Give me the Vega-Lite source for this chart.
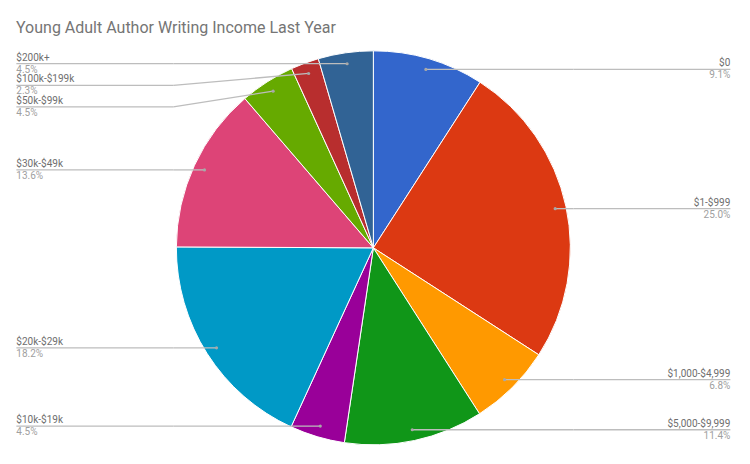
{
  "$schema": "https://vega.github.io/schema/vega-lite/v6.json",
  "width": 750,
  "height": 416,
  "padding": {"left": 0, "right": 0, "top": 20, "bottom": 0},
  "title": {
    "text": "Young Adult Author Writing Income Last Year",
    "anchor": "start",
    "dx": 16,
    "offset": 6,
    "font": "Roboto",
    "fontSize": 16,
    "fontWeight": "normal",
    "color": "#757575"
  },
  "config": {"view": {"stroke": null}},
  "data": {
    "values": [
      {"income": "$0", "share": 0.091},
      {"income": "$1-$999", "share": 0.25},
      {"income": "$1,000-$4,999", "share": 0.068},
      {"income": "$5,000-$9,999", "share": 0.114},
      {"income": "$10k-$19k", "share": 0.045},
      {"income": "$20k-$29k", "share": 0.182},
      {"income": "$30k-$49k", "share": 0.136},
      {"income": "$50k-$99k", "share": 0.045},
      {"income": "$100k-$199k", "share": 0.023},
      {"income": "$200k+", "share": 0.045}
    ]
  },
  "transform": [
    {"window": [{"op": "sum", "field": "share", "as": "cum"}]},
    {"joinaggregate": [{"op": "sum", "field": "share", "as": "total"}]},
    {"calculate": "2 * PI * (datum.cum - datum.share / 2) / datum.total", "as": "angle"},
    {"calculate": "186 * sin(datum.angle)", "as": "dotX"},
    {"calculate": "-186 * cos(datum.angle)", "as": "dotY"},
    {"calculate": "sin(datum.angle) > 0 ? 'right' : 'left'", "as": "side"},
    {"window": [{"op": "rank", "as": "slot"}], "groupby": ["side"], "sort": [{"field": "dotY"}]},
    {"joinaggregate": [{"op": "min", "field": "dotY", "as": "topY"}], "groupby": ["side"]},
    {"calculate": "max(datum.dotY, datum.topY + (datum.slot - 1) * 21.6)", "as": "labelY"},
    {"calculate": "datum.side == 'right' ? 357 : -357", "as": "labelX"},
    {"calculate": "datum.side == 'right' ? 200 : -200", "as": "elbowX"}
  ],
  "layer": [
    {
      "mark": {"type": "arc", "outerRadius": 197, "stroke": "white", "strokeWidth": 1},
      "encoding": {
        "theta": {"field": "share", "type": "quantitative", "stack": true},
        "order": {"field": "cum", "type": "quantitative"},
        "color": {
          "field": "income",
          "type": "nominal",
          "legend": null,
          "scale": {
            "domain": ["$0", "$1-$999", "$1,000-$4,999", "$5,000-$9,999", "$10k-$19k", "$20k-$29k", "$30k-$49k", "$50k-$99k", "$100k-$199k", "$200k+"],
            "range": ["#3366cc", "#dc3912", "#ff9900", "#109618", "#990099", "#0099c6", "#dd4477", "#66aa00", "#b82e2e", "#316395"]
          }
        },
        "x": {"datum": 0, "type": "quantitative", "axis": null, "scale": {"domain": [-373.35, 376.65], "nice": false, "zero": false}},
        "y": {"datum": 0, "type": "quantitative", "axis": null, "scale": {"domain": [-205.85, 210.15], "nice": false, "zero": false, "reverse": true}}
      }
    },
    {
      "mark": {"type": "rule", "color": "#bdbdbd", "strokeWidth": 1.3},
      "encoding": {
        "x": {"field": "labelX", "type": "quantitative", "axis": null, "scale": {"domain": [-373.35, 376.65], "nice": false, "zero": false}},
        "x2": {"field": "elbowX"},
        "y": {"field": "labelY", "type": "quantitative", "axis": null, "scale": {"domain": [-205.85, 210.15], "nice": false, "zero": false, "reverse": true}}
      }
    },
    {
      "mark": {"type": "rule", "color": "#bdbdbd", "strokeWidth": 1.3},
      "encoding": {
        "x": {"field": "elbowX", "type": "quantitative", "axis": null, "scale": {"domain": [-373.35, 376.65], "nice": false, "zero": false}},
        "x2": {"field": "dotX"},
        "y": {"field": "labelY", "type": "quantitative", "axis": null, "scale": {"domain": [-205.85, 210.15], "nice": false, "zero": false, "reverse": true}},
        "y2": {"field": "dotY"}
      }
    },
    {
      "mark": {"type": "point", "filled": true, "size": 10, "color": "#a8a8a8", "opacity": 1},
      "encoding": {
        "x": {"field": "dotX", "type": "quantitative", "axis": null, "scale": {"domain": [-373.35, 376.65], "nice": false, "zero": false}},
        "y": {"field": "dotY", "type": "quantitative", "axis": null, "scale": {"domain": [-205.85, 210.15], "nice": false, "zero": false, "reverse": true}}
      }
    },
    {
      "transform": [{"filter": "datum.side == 'right'"}],
      "mark": {"type": "text", "align": "right", "baseline": "alphabetic", "dy": -3, "font": "Roboto", "fontSize": 10, "color": "#6e6e6e"},
      "encoding": {
        "x": {"field": "labelX", "type": "quantitative", "axis": null, "scale": {"domain": [-373.35, 376.65], "nice": false, "zero": false}},
        "y": {"field": "labelY", "type": "quantitative", "axis": null, "scale": {"domain": [-205.85, 210.15], "nice": false, "zero": false, "reverse": true}},
        "text": {"field": "income"}
      }
    },
    {
      "transform": [{"filter": "datum.side == 'right'"}],
      "mark": {"type": "text", "align": "right", "baseline": "alphabetic", "dy": 9, "font": "Roboto", "fontSize": 10, "color": "#a0a0a0"},
      "encoding": {
        "x": {"field": "labelX", "type": "quantitative", "axis": null, "scale": {"domain": [-373.35, 376.65], "nice": false, "zero": false}},
        "y": {"field": "labelY", "type": "quantitative", "axis": null, "scale": {"domain": [-205.85, 210.15], "nice": false, "zero": false, "reverse": true}},
        "text": {"field": "share", "format": ".1%"}
      }
    },
    {
      "transform": [{"filter": "datum.side == 'left'"}],
      "mark": {"type": "text", "align": "left", "baseline": "alphabetic", "dy": -3, "font": "Roboto", "fontSize": 10, "color": "#6e6e6e"},
      "encoding": {
        "x": {"field": "labelX", "type": "quantitative", "axis": null, "scale": {"domain": [-373.35, 376.65], "nice": false, "zero": false}},
        "y": {"field": "labelY", "type": "quantitative", "axis": null, "scale": {"domain": [-205.85, 210.15], "nice": false, "zero": false, "reverse": true}},
        "text": {"field": "income"}
      }
    },
    {
      "transform": [{"filter": "datum.side == 'left'"}],
      "mark": {"type": "text", "align": "left", "baseline": "alphabetic", "dy": 9, "font": "Roboto", "fontSize": 10, "color": "#a0a0a0"},
      "encoding": {
        "x": {"field": "labelX", "type": "quantitative", "axis": null, "scale": {"domain": [-373.35, 376.65], "nice": false, "zero": false}},
        "y": {"field": "labelY", "type": "quantitative", "axis": null, "scale": {"domain": [-205.85, 210.15], "nice": false, "zero": false, "reverse": true}},
        "text": {"field": "share", "format": ".1%"}
      }
    }
  ]
}
